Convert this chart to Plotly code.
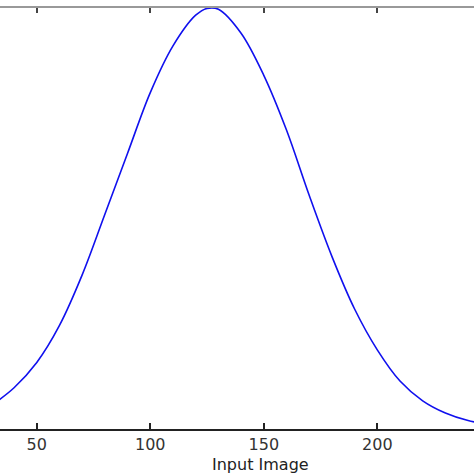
import plotly.graph_objects as go

# Curve samples (x = grey level, y = normalised response)
x_vals = [30, 40, 50, 60, 70, 80, 90, 100, 110, 120, 125, 130, 140, 150, 160,
          170, 180, 190, 200, 210, 220, 230, 240, 250]
y_vals = [0.056, 0.098, 0.158, 0.246, 0.366, 0.510, 0.655, 0.799, 0.910, 0.983,
          0.999, 0.997, 0.940, 0.840, 0.710, 0.555, 0.410, 0.285, 0.188, 0.114,
          0.067, 0.038, 0.020, 0.010]
x_ticks = [50, 100, 150, 200]
x_label = "Input Image"

fig = go.Figure()
fig.add_trace(go.Scatter(x=x_vals, y=y_vals, mode="lines",
                         line=dict(color="#1010ee", width=1.6, shape="spline"),
                         showlegend=False))
# top mirror axis
fig.add_trace(go.Scatter(x=[x_vals[0]], y=[0], xaxis="x2", mode="markers",
                         marker=dict(opacity=0), showlegend=False, hoverinfo="skip"))

xr = [33.8, 242.6]
fig.update_layout(
    width=474, height=474,
    margin=dict(l=0, r=0, t=8, b=45),
    paper_bgcolor="white", plot_bgcolor="white",
    font=dict(family="DejaVu Sans", size=16, color="#333333"),
    xaxis=dict(range=xr, tickvals=x_ticks, ticks="inside", ticklen=6,
               tickwidth=2, tickcolor="#222222", showline=True, linecolor="#222222",
               linewidth=2, showgrid=False, zeroline=False,
               tickfont=dict(family="DejaVu Sans", size=16, color="#333333")),
    xaxis2=dict(range=xr, overlaying="x", side="top", tickvals=x_ticks,
                ticks="inside", ticklen=5, tickwidth=2, tickcolor="#444444",
                showticklabels=False, showline=True, linecolor="#999999",
                linewidth=2, showgrid=False, zeroline=False),
    yaxis=dict(range=[0, 1.0], showticklabels=False, showgrid=False,
               zeroline=False, showline=False, ticks=""),
    annotations=[dict(text=x_label, xref="paper", yref="paper",
                      x=260 / 474, y=0, yshift=-24, xanchor="center",
                      yanchor="top", showarrow=False,
                      font=dict(family="DejaVu Sans", size=16, color="#222222"))],
)
fig.write_html("out.html", config={"displayModeBar": False},
               post_script="document.body.style.margin='0';document.body.style.overflow='hidden';")
